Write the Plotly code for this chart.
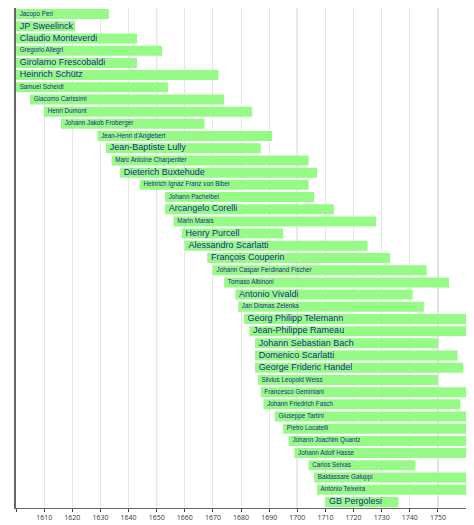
import numpy as np
import plotly.graph_objects as go

# composer names, birth and death years (as drawn), label size group
names = ["Jacopo Peri", "JP Sweelinck", "Claudio Monteverdi", "Gregorio Allegri",
         "Girolamo Frescobaldi", "Heinrich Schütz", "Samuel Scheidt", "Giacomo Carissimi",
         "Henri Dumont", "Johann Jakob Froberger", "Jean-Henri d'Anglebert",
         "Jean-Baptiste Lully", "Marc Antoine Charpentier", "Dieterich Buxtehude",
         "Heinrich Ignaz Franz von Biber", "Johann Pachelbel", "Arcangelo Corelli",
         "Marin Marais", "Henry Purcell", "Alessandro Scarlatti", "François Couperin",
         "Johann Caspar Ferdinand Fischer", "Tomaso Albinoni", "Antonio Vivaldi",
         "Jan Dismas Zelenka", "Georg Philipp Telemann", "Jean-Philippe Rameau",
         "Johann Sebastian Bach", "Domenico Scarlatti", "George Frideric Handel",
         "Silvius Leopold Weiss", "Francesco Geminiani", "Johann Friedrich Fasch",
         "Giuseppe Tartini", "Pietro Locatelli", "Johann Joachim Quantz",
         "Johann Adolf Hasse", "Carlos Seixas", "Baldassare Galuppi", "António Teixeira",
         "GB Pergolesi"]
born = [1561, 1562, 1567, 1582, 1583, 1585, 1587, 1605, 1610, 1616, 1629,
        1632, 1634, 1637, 1644, 1653, 1653, 1656, 1659, 1660, 1668,
        1670, 1674, 1678, 1679, 1681, 1683, 1685, 1685, 1685, 1686,
        1687, 1688, 1692, 1695, 1697, 1699, 1704, 1706, 1707, 1710]
died = [1633, 1621, 1643, 1652, 1643, 1672, 1654, 1674, 1684, 1667, 1691,
        1687, 1704, 1707, 1704, 1706, 1713, 1728, 1695, 1725, 1733,
        1746, 1754, 1741, 1745, 1767, 1764, 1750, 1757, 1759, 1750,
        1762, 1758, 1770, 1764, 1773, 1783, 1742, 1785, 1774, 1736]
big = {"JP Sweelinck", "Claudio Monteverdi", "Girolamo Frescobaldi", "Heinrich Schütz",
       "Jean-Baptiste Lully", "Dieterich Buxtehude", "Arcangelo Corelli", "Henry Purcell",
       "Alessandro Scarlatti", "François Couperin", "Antonio Vivaldi",
       "Georg Philipp Telemann", "Jean-Philippe Rameau", "Johann Sebastian Bach",
       "Domenico Scarlatti", "George Frideric Handel", "GB Pergolesi"}

x0, x1 = 1600, 1760
start = np.clip(born, x0, x1)
end = np.clip(died, x0, x1)
sizes = [9 if n in big else 6.3 for n in names]

fig = go.Figure()
fig.add_trace(go.Bar(y=names, x=end - start, base=start, orientation="h",
                     marker=dict(color="#96fa86", line=dict(width=0)),
                     width=0.82, hoverinfo="skip"))
fig.add_trace(go.Scatter(y=names, x=start + 1.3, mode="text", text=names,
                         textposition="middle right", cliponaxis=False,
                         textfont=dict(size=sizes, color="#1c2a8c",
                                       family="Liberation Sans, Arial")))

for yr in (1650, 1700, 1750):
    fig.add_shape(type="line", xref="x", yref="paper", x0=yr, x1=yr, y0=0, y1=1,
                  line=dict(color="#b0b0b0", width=1), layer="below")

fig.update_xaxes(range=[x0, x1], dtick=10, showgrid=True, gridcolor="#e6e6e6",
                 tickfont=dict(size=7, color="#333"), ticks="outside", ticklen=3,
                 showline=True, linecolor="#666", zeroline=False, fixedrange=True)
fig.update_yaxes(range=[len(names) - 0.5, -0.5], showticklabels=False, showgrid=False,
                 showline=True, linecolor="#666", linewidth=1.5, zeroline=False)
fig.update_layout(width=466, height=514, margin=dict(l=8, r=8, t=0, b=14),
                  plot_bgcolor="white", paper_bgcolor="white", showlegend=False,
                  bargap=0.15)
fig.write_html("out.html")
